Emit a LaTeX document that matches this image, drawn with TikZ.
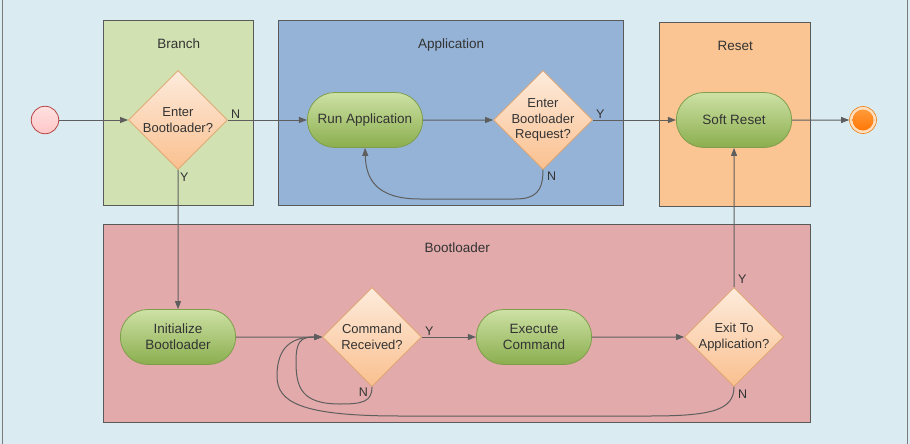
\documentclass[tikz,border=0pt]{standalone}
\usepackage{fontspec}
\setmainfont{Liberation Sans}
\usepackage{tikz}
\usetikzlibrary{arrows.meta,positioning,shapes.geometric,shapes.misc}
\usepackage{xcolor}

\definecolor{bgblue}{HTML}{DAECF2}
\definecolor{lanegreen}{HTML}{D1E1B2}
\definecolor{laneblue}{HTML}{95B3D7}
\definecolor{lanepeach}{HTML}{FAC592}
\definecolor{lanered}{HTML}{E2AAAA}
\definecolor{laneline}{HTML}{5A5A5A}
\definecolor{flowline}{HTML}{5E5E5E}
\definecolor{stadtop}{HTML}{CDE1A5}
\definecolor{stadbot}{HTML}{8BAE4E}
\definecolor{staddraw}{HTML}{7F9E4C}
\definecolor{diatop}{HTML}{FDEBDC}
\definecolor{diabot}{HTML}{FAC08F}
\definecolor{diadraw}{HTML}{DFA36B}
\definecolor{inktext}{HTML}{333333}

\begin{document}
\begin{tikzpicture}[x=1pt, y=1pt, >={Triangle[length=8pt,width=6pt]},
  font=\fontsize{13.5}{16}\selectfont, text=inktext,
  lane/.style={draw=laneline, line width=1.4pt, rectangle, anchor=north west, inner sep=0pt},
  lanetitle/.style={text height=10pt, text depth=3pt, inner sep=3pt},
  task/.style={rounded rectangle, draw=staddraw, line width=0.8pt, top color=stadtop, bottom color=stadbot,
    minimum width=122pt, minimum height=55pt, align=center},
  decide/.style={diamond, draw=diadraw, line width=0.8pt, top color=diatop, bottom color=diabot,
    minimum width=99pt, minimum height=99pt, inner sep=0pt, align=center, font=\fontsize{13}{15.5}\selectfont},
  flow/.style={->, draw=flowline, line width=1pt},
  yn/.style={font=\fontsize{12.5}{14}\selectfont, inner sep=2pt}]
\useasboundingbox (0,0) rectangle (910,-444);
\fill[bgblue] (0,0) rectangle (910,-444);
\draw[laneline!80, line width=1pt] (2,0) -- (2,-444) (907,0) -- (907,-444);

% lanes
\node[lane, fill=lanegreen, minimum width=150pt, minimum height=185pt] (branch) at (103,-20) {};
\node[lane, fill=laneblue, minimum width=345pt, minimum height=185pt] (app) at (278,-20) {};
\node[lane, fill=lanepeach, minimum width=151pt, minimum height=184pt] (reset) at (659,-22) {};
\node[lane, fill=lanered, minimum width=707pt, minimum height=198pt] (boot) at (103,-224) {};
\node[lanetitle, below=15pt of branch.north] (branchtitle) {Branch};
\node[lanetitle, below=15pt of app.north] (apptitle) {Application};
\node[lanetitle, below=15pt of reset.north] (resettitle) {Reset};
\node[lanetitle, below=15pt of boot.north] (boottitle) {Bootloader};

% start / end
\node[circle, minimum size=27.5pt, draw=red!45!gray, line width=0.8pt, top color=red!12, bottom color=red!22] (start) at (45,-120) {};
\node[circle, minimum size=27pt, fill=orange!25, draw=orange!70!brown, line width=0.6pt,
  path picture={\shade[top color=orange!75, bottom color=orange!90!red] (path picture bounding box.center) circle (10.5pt);}] (finish) at (863,-120) {};

% steps
\node[decide] (enterbl) at (178,-120) {Enter\\Bootloader?};
\node[task] (runapp) at (365,-120) {Run Application};
\node[decide, inner sep=-2pt] (blreq) at (543,-120) {Enter\\Bootloader\\Request?};
\node[task] (softreset) at (734,-120) {Soft Reset};
\node[task] (initbl) at (178,-337) {Initialize\\Bootloader};
\node[decide] (cmdrx) at (372,-337) {Command\\Received?};
\node[task] (execcmd) at (534,-337) {Execute\\Command};
\node[decide] (exitapp) at (734,-337) {Exit To\\Application?};

% connectors
\draw[flow] (start) -- (enterbl);
\draw[flow] (enterbl) -- (runapp);
\draw[flow] (enterbl) -- (initbl);
\draw[flow] (runapp) -- (blreq);
\draw[flow] (blreq) -- (softreset);
\draw[flow] (softreset) -- (finish);
\draw[flow] (blreq.south) .. controls (543,-192) and (535,-199) .. (515,-199) -- (420,-199)
  .. controls (375,-199) and (366,-178) .. (runapp.south);
\draw[flow] (initbl) -- (cmdrx);
\draw[flow] (cmdrx) -- (execcmd);
\draw[flow] (execcmd) -- (exitapp);
\draw[flow] (exitapp) -- (softreset);
\draw[flow] (cmdrx.south) .. controls (372,-402) and (362,-404) .. (340,-404)
  .. controls (302,-404) and (296,-388) .. (296,-362) .. controls (296,-342) and (300,-337) .. (cmdrx.west);
\draw[flow] (exitapp.south) .. controls (734,-410) and (712,-416) .. (650,-416) -- (400,-416)
  .. controls (300,-416) and (277,-402) .. (277,-376) .. controls (277,-346) and (293,-337) .. (cmdrx.west);

% branch labels
\node[yn, above right=-1pt and 1pt of enterbl.east] (enterbln) {N};
\node[yn, below right=1pt and 0pt of enterbl.south] (enterbly) {Y};
\node[yn, above right=-1pt and 1pt of blreq.east] (blreqy) {Y};
\node[yn, below right=0pt and 2pt of blreq.south] (blreqn) {N};
\node[yn, above right=-1pt and 1pt of cmdrx.east] (cmdrxy) {Y};
\node[yn, below left=-1pt and 2pt of cmdrx.south] (cmdrxn) {N};
\node[yn, above right=1pt and 2pt of exitapp.north] (exitappy) {Y};
\node[yn, below right=1pt and 2pt of exitapp.south] (exitappn) {N};
\end{tikzpicture}
\end{document}
